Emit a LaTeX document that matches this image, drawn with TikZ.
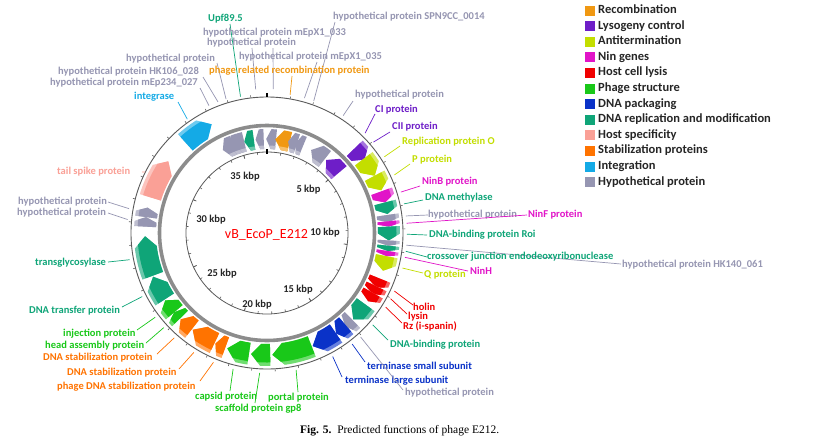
\documentclass[tikz,border=0pt]{standalone}
\usepackage{fontspec}
\setmainfont{Carlito}
\newfontfamily\capfont{Liberation Serif}
\definecolor{recomb}{RGB}{240,152,18}
\definecolor{lyso}{RGB}{110,30,200}
\definecolor{anti}{RGB}{195,222,0}
\definecolor{nin}{RGB}{225,20,200}
\definecolor{lysis}{RGB}{240,0,0}
\definecolor{struct}{RGB}{25,200,25}
\definecolor{pack}{RGB}{10,50,200}
\definecolor{repl}{RGB}{15,165,120}
\definecolor{hostspec}{RGB}{250,160,150}
\definecolor{stab}{RGB}{255,115,0}
\definecolor{integ}{RGB}{20,170,230}
\definecolor{hypo}{RGB}{150,150,178}
\definecolor{ringc}{RGB}{140,140,140}
\definecolor{linec}{RGB}{90,90,90}
\tikzset{
 lab/.style={anchor=west, inner sep=0pt, font=\bfseries\fontsize{10.5}{12}\selectfont, text height=7.4pt, text depth=2.3pt},
 leader/.style={line width=0.7pt},
 legsq/.style={minimum size=10pt, inner sep=0pt},
 legtxt/.style={anchor=west, inner sep=0pt, font=\bfseries\fontsize{12.5}{14}\selectfont, text=black!85, text height=8.5pt, text depth=2.6pt},
 kbp/.style={font=\bfseries\fontsize{10.5}{12}\selectfont, text=black!85, inner sep=0pt},
}
% outer ring gene, clockwise
\newcommand{\gcw}[3]{%
 \pgfmathsetmacro{\gA}{90-#1}%
 \pgfmathsetmacro{\gH}{min(0.5*(#2-#1),5.2)}%
 \pgfmathsetmacro{\gB}{90-#2+\gH}%
 \pgfmathsetmacro{\gT}{90-#2}%
 \begin{scope}
 \clip (\gA:133) arc[start angle=\gA, end angle=\gB, radius=133] -- (\gT:122) -- (\gB:111) arc[start angle=\gB, end angle=\gA, radius=111] -- cycle;
 \fill[#3!62!white] (0,0) circle[radius=134];
 \fill[#3] (0,0) circle[radius=129.5];
 \end{scope}}
% inner ring gene, counterclockwise
\newcommand{\gccw}[3]{%
 \pgfmathsetmacro{\gT}{90-#1}%
 \pgfmathsetmacro{\gH}{min(0.5*(#2-#1),6.5)}%
 \pgfmathsetmacro{\gB}{90-#1-\gH}%
 \pgfmathsetmacro{\gE}{90-#2}%
 \begin{scope}
 \clip (\gT:94) -- (\gB:104) arc[start angle=\gB, end angle=\gE, radius=104] -- (\gE:84) arc[start angle=\gE, end angle=\gB, radius=84] -- cycle;
 \fill[#3] (0,0) circle[radius=105];
 \fill[#3!62!white] (0,0) circle[radius=87.5];
 \end{scope}}
% label with leader line
\newcommand{\lbl}[9]{%
 \coordinate (#1s) at (#6,-#7);
 \coordinate (#1e) at ([shift={({90-#8}:#9)}]C);
 \draw[#2, leader] (#1s) -- (#1e);
 \node[lab, text=#2] (#1) at (#3,-#4) {#5};
}
\begin{document}
\begin{tikzpicture}[x=1pt,y=1pt]
\useasboundingbox (0,0) rectangle (824,-445);
\fill[white] (0,0) rectangle (824,-445);
\coordinate (C) at (267,-233);

\begin{scope}[shift={(C)}]
 \draw[line width=0.9pt, linec] (0,0) circle[radius=136];
 \draw[line width=3.6pt, ringc] (0,0) circle[radius=107.5];
 \draw[line width=0.8pt, linec] (0,0) circle[radius=81];
 % ticks
 \foreach \k in {1,...,36}{
   \pgfmathsetmacro{\ta}{90-\k*9.81}
   \draw[linec, line width=0.6pt] (\ta:136.5) -- (\ta:138.5);
   \draw[linec, line width=0.6pt] (\ta:81) -- (\ta:78.6);
 }
 \foreach \k in {5,10,...,35}{
   \pgfmathsetmacro{\ta}{90-\k*9.81}
   \draw[linec, line width=0.7pt] (\ta:81) -- (\ta:77.5);
 }
 \fill[black] (-1.2,79) rectangle (1.2,84);
 \fill[black] (-1.2,136) rectangle (1.2,140);

 % outer ring genes
 \gcw{46}{53}{lyso}
 \gcw{52.5}{62}{anti}
 \gcw{62}{69.5}{anti}
 \gcw{70}{75.5}{nin}
 \gcw{75.5}{81}{repl}
 \gcw{81.5}{85}{hypo}
 \gcw{84.5}{87}{nin}
 \gcw{87}{93.5}{repl}
 \gcw{93.5}{96}{hypo}
 \gcw{96}{98.5}{repl}
 \gcw{98.5}{101}{nin}
 \gcw{101}{108}{anti}
 \gcw{112}{116.5}{lysis}
 \gcw{116}{120}{lysis}
 \gcw{119.5}{124}{lysis}
 \gcw{126}{135}{repl}
 \gcw{135.5}{140}{hypo}
 \gcw{139.5}{145.5}{pack}
 \gcw{145.5}{158}{pack}
 \gcw{158.5}{177.5}{struct}
 \gcw{178.5}{187.5}{struct}
 \gcw{188.5}{199}{struct}
 \gcw{200}{205}{stab}
 \gcw{205.5}{217.5}{stab}
 \gcw{218}{225}{stab}
 \gcw{225.5}{229.5}{struct}
 \gcw{229.5}{236.5}{struct}
 \gcw{237}{249}{repl}
 \gcw{249.5}{268.5}{repl}
 \gcw{273}{277.5}{hypo}
 \gcw{277.5}{282}{hypo}
 \gcw{287}{306}{hostspec}
 \gcw{318}{333}{integ}
 % inner ring genes
 \gccw{332}{339}{hypo}
 \gccw{336}{343}{hypo}
 \gccw{340}{346}{hypo}
 \gccw{346}{352}{repl}
 \gccw{353}{358}{hypo}
 \gccw{359.5}{365.5}{hypo}
 \gccw{365}{374}{recomb}
 \gccw{373}{378.5}{hypo}
 \gccw{377.5}{382.5}{hypo}
 \gccw{28}{38}{hypo}
 \gccw{39}{50}{lyso}
\end{scope}

% centre texts
\node[font=\fontsize{14}{16}\selectfont, text=red, inner sep=0pt] (title) at (266.5,-235) {vB\_EcoP\_E212};
\node[kbp] (k5) at (308.5,-190) {5 kbp};
\node[kbp] (k10) at (325,-233) {10 kbp};
\node[kbp] (k15) at (298,-290) {15 kbp};
\node[kbp] (k20) at (257,-305) {20 kbp};
\node[kbp] (k25) at (222,-274) {25 kbp};
\node[kbp] (k30) at (211,-220) {30 kbp};
\node[kbp] (k35) at (245,-177) {35 kbp};

% labels: name, colour, x, y, text, start x, start y, angle, radius
\lbl{t1}{repl}{208}{19}{Upf89.5}{230}{24}{349}{139}
\lbl{t2}{hypo}{333}{17}{hypothetical protein SPN9CC\_0014}{335}{22}{19.5}{140}
\lbl{t3}{hypo}{203}{33}{hypothetical protein mEpX1\_033}{273}{48}{2.5}{144}
\lbl{t4}{hypo}{207}{43}{hypothetical protein}{252}{48}{355.5}{144}
\lbl{t5}{hypo}{239}{57}{hypothetical protein mEpX1\_035}{317}{62}{15.5}{140}
\lbl{t6}{hypo}{126}{59}{hypothetical protein}{217}{63}{343}{140}
\lbl{t7}{recomb}{209}{71}{phage related recombination protein}{292}{76}{9.5}{140}
\lbl{t8}{hypo}{58}{72}{hypothetical protein HK106\_028}{203}{77}{339.5}{140}
\lbl{t9}{hypo}{50}{83}{hypothetical protein mEp234\_027}{200}{88}{335.5}{140}
\lbl{t10}{integ}{134}{97}{integrase}{178}{102}{325}{139}

\lbl{r1}{hypo}{355}{95}{hypothetical protein}{353}{101}{33}{140}
\lbl{r2}{lyso}{375}{110}{CI protein}{375}{114}{44.5}{140}
\lbl{r3}{lyso}{392}{127}{CII protein}{390}{132}{49.5}{140}
\lbl{r4}{anti}{402}{142}{Replication protein O}{400}{146}{57}{140}
\lbl{r5}{anti}{412}{160}{P protein}{410}{164}{65.5}{140}
\lbl{r6}{nin}{422}{182}{NinB protein}{420}{186}{73}{140}
\lbl{r7}{repl}{425}{198}{DNA methylase}{423}{200}{78}{140}
\lbl{r8}{hypo}{428}{215}{hypothetical protein}{428}{215}{83}{140}
\lbl{r9}{nin}{528}{215}{NinF protein}{527}{215}{86}{140}
\lbl{r10}{repl}{429}{235}{DNA-binding protein Roi}{427}{235}{90.5}{140}
\lbl{r12}{hypo}{622}{265}{hypothetical protein HK140\_061}{621}{264}{95}{140}
\lbl{r11}{repl}{427}{257}{crossover junction endodeoxyribonuclease}{427}{257}{97.5}{140}
\lbl{r13}{anti}{424}{275}{Q protein}{423}{273}{104.5}{140}
\lbl{r14}{nin}{470}{272}{NinH}{468}{271}{100}{140}
\lbl{r15}{lysis}{413}{308}{holin}{413}{305}{114.5}{140}
\lbl{r16}{lysis}{408}{317}{lysin}{407}{314}{118}{140}
\lbl{r17}{lysis}{403}{327}{Rz (i-spanin)}{402}{323}{122}{140}
\lbl{r18}{repl}{390}{345}{DNA-binding protein}{388}{340}{131}{140}
\lbl{r19}{pack}{367}{367}{terminase small subunit}{365}{362}{142.5}{140}
\lbl{r20}{pack}{345}{381}{terminase large subunit}{342}{377}{152}{140}
\lbl{r21}{hypo}{405}{393}{hypothetical protein}{403}{390}{138}{140}

\lbl{b1}{struct}{268}{398}{portal protein}{298}{392}{168}{140}
\lbl{b2}{struct}{215}{409}{scaffold protein gp8}{255}{403}{183}{140}
\lbl{b3}{struct}{195}{397}{capsid protein}{230}{391}{194}{140}
\lbl{b4}{stab}{57}{387}{phage DNA stabilization protein}{200}{381}{202.5}{140}
\lbl{b5}{stab}{67}{373}{DNA stabilization protein}{179}{369}{211.5}{140}
\lbl{b6}{stab}{43}{358}{DNA stabilization protein}{157}{354}{221.5}{140}
\lbl{b7}{struct}{45}{346}{head assembly protein}{146}{343}{227.5}{140}
\lbl{b8}{struct}{63}{334}{injection protein}{137}{330}{233}{140}
\lbl{b9}{repl}{29}{311}{DNA transfer protein}{122}{307}{243}{140}

\lbl{l1}{repl}{35}{263}{transglycosylase}{108}{262}{259}{140}
\lbl{l2}{hypo}{18}{202}{hypothetical protein}{108}{202}{280}{140}
\lbl{l3}{hypo}{17}{213}{hypothetical protein}{108}{213}{275.5}{140}
\lbl{l4}{hostspec}{57}{172}{tail spike protein}{145}{172}{296}{139}

% legend
\foreach \c/\t [count=\i] in {recomb/Recombination, lyso/Lysogeny control, anti/Antitermination, nin/Nin genes, lysis/Host cell lysis, struct/Phage structure, pack/DNA packaging, repl/DNA replication and modification, hostspec/Host specificity, stab/Stabilization proteins, integ/Integration, hypo/Hypothetical protein}{
  \pgfmathsetmacro{\ly}{-10.5-(\i-1)*15.6}
  \node[legsq, fill=\c] (sq\i) at (590,\ly) {};
  \node[legtxt] (lt\i) at (598,\ly) {\t};
}

% caption
\node[anchor=west, inner sep=0pt, font=\capfont\fontsize{11.5}{13}\selectfont] (cap) at (300,-431) {\textbf{Fig. 5.}\ \ Predicted functions of phage E212.};
\end{tikzpicture}
\end{document}
